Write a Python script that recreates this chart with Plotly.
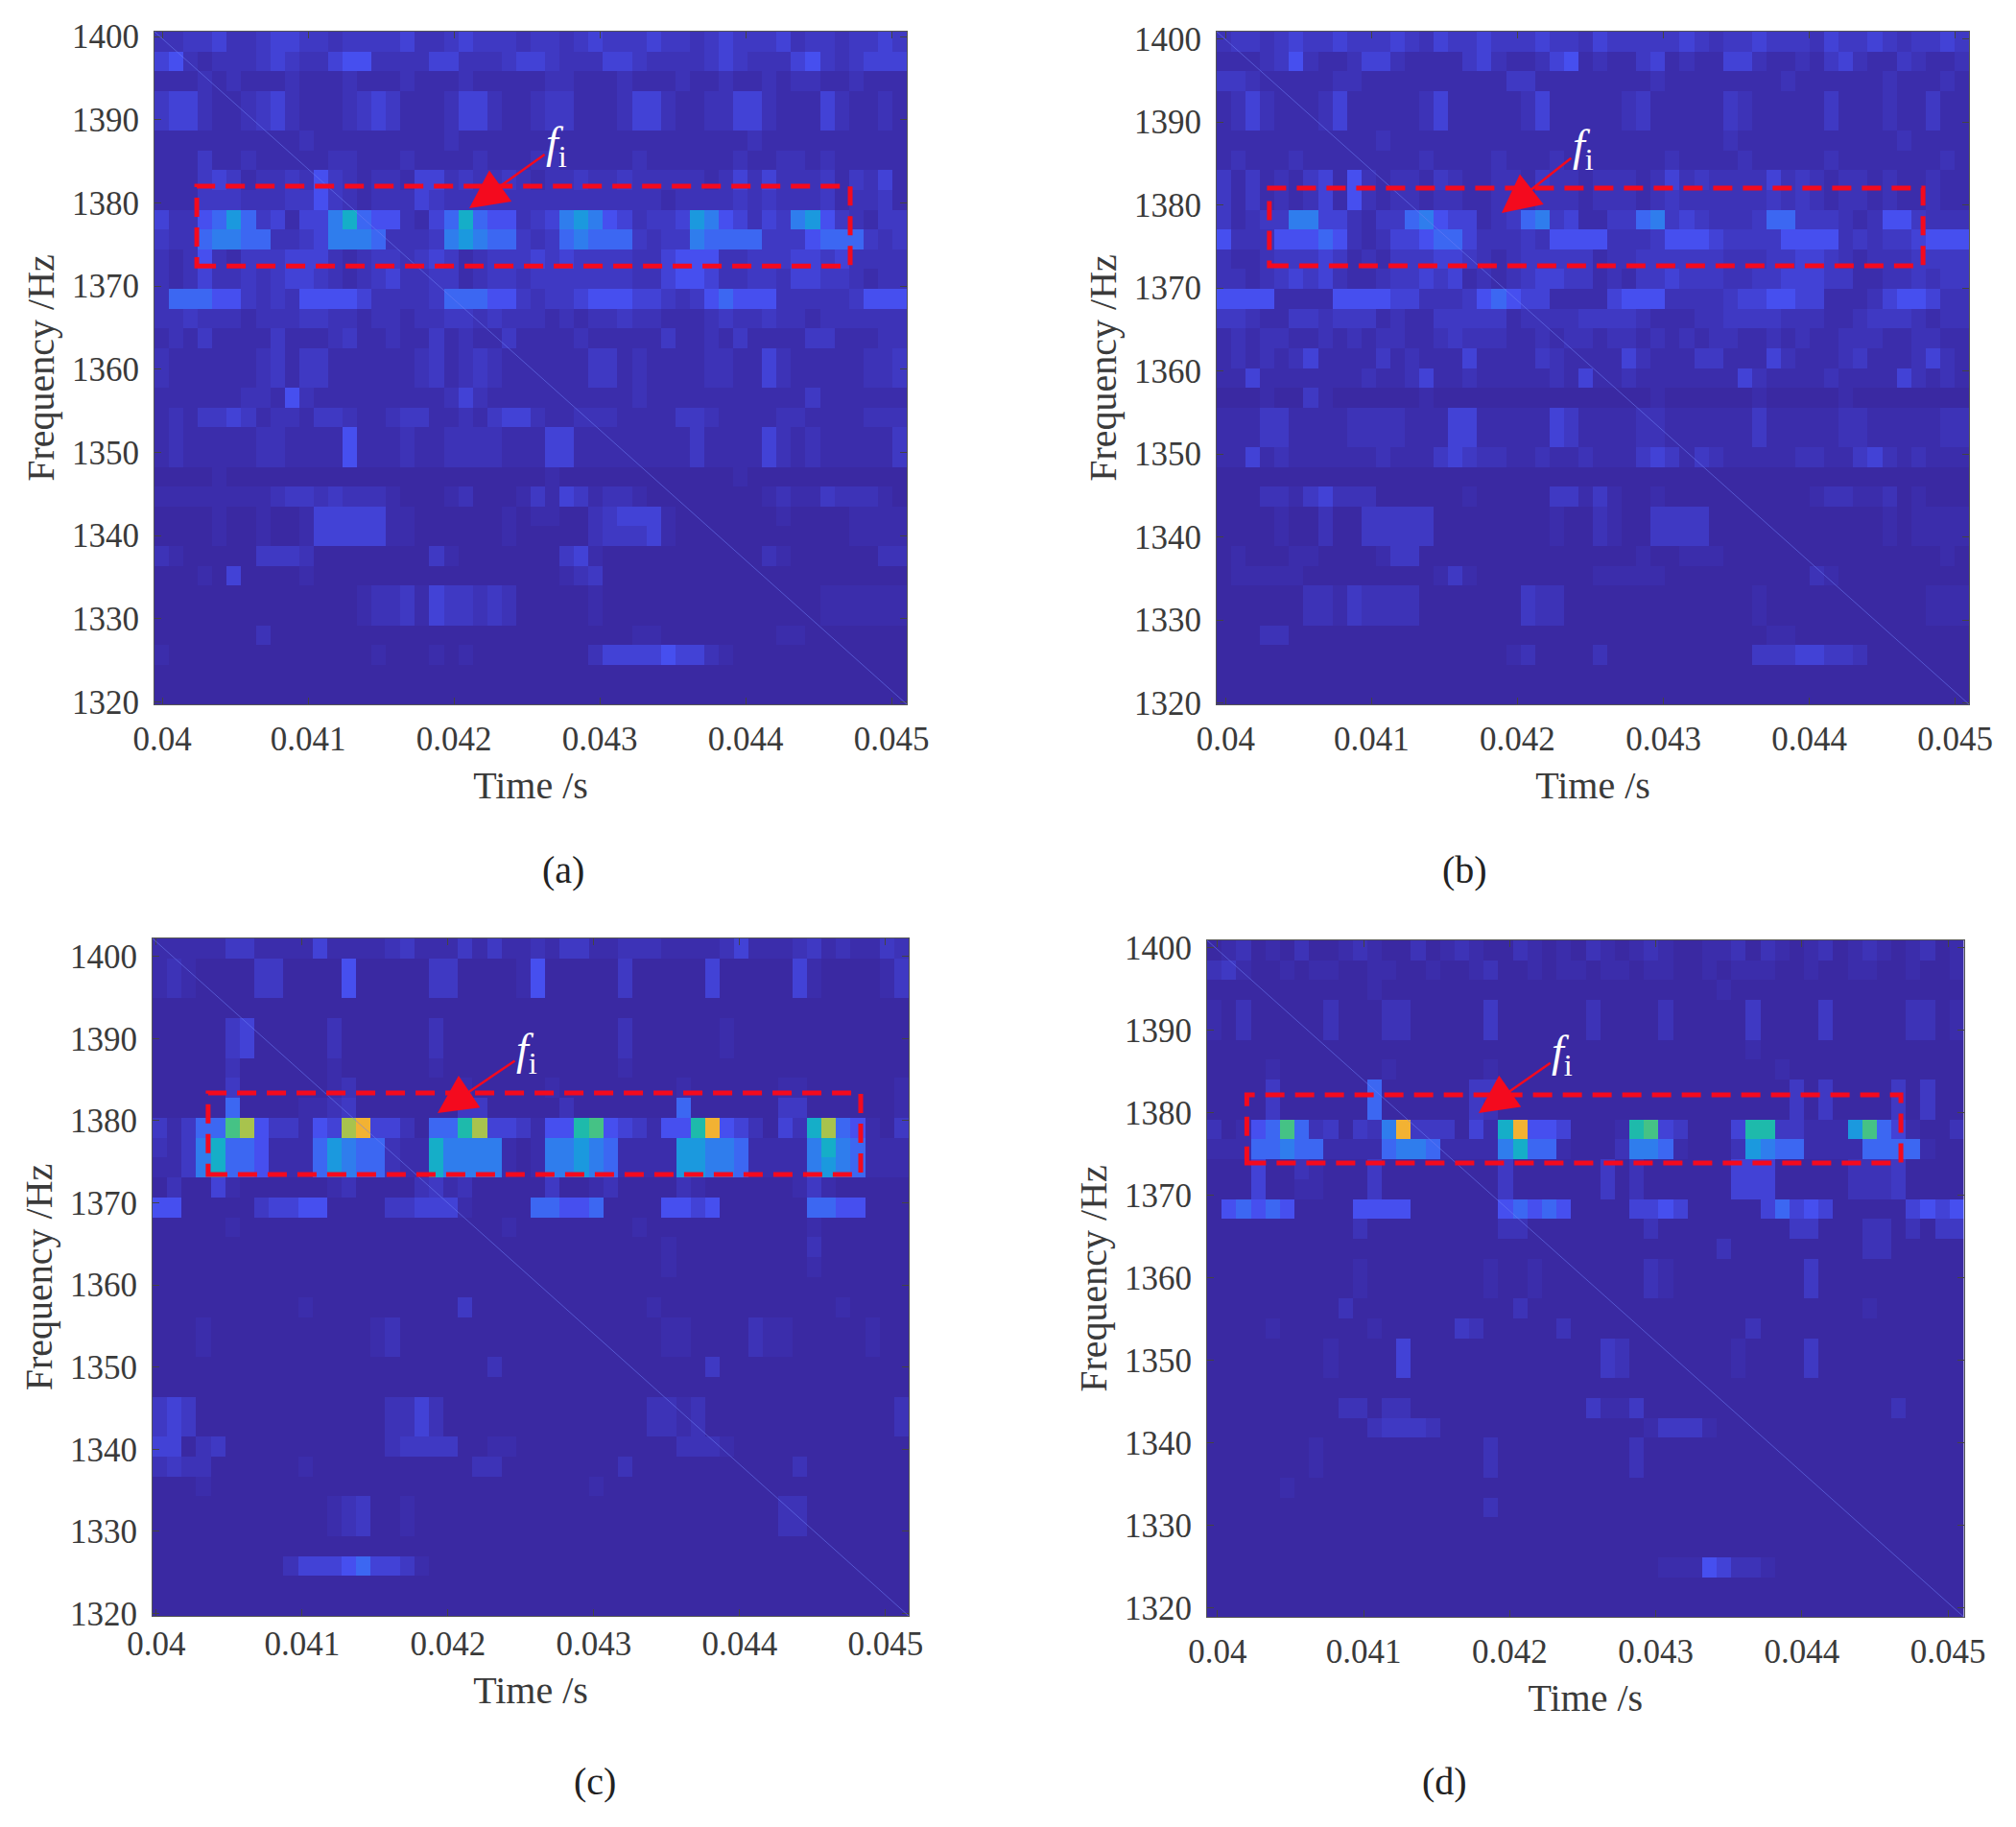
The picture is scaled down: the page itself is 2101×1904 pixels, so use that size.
"""
Four time-frequency maps (a)-(d), 1320-1400 Hz over 0.040-0.045 s.
Cell intensities are read off the figure by eye and kept as level codes.
"""

import numpy as np
import plotly.graph_objects as go

W, H = 2101, 1904
N_COLS = 52
N_ROWS = 34

# level code -> colour position, finer at the low end where most cells sit
LEVELS = {"0": 0.0, "1": 0.012, "2": 0.028, "3": 0.045, "4": 0.07, "5": 0.105, "6": 0.17,
          "7": 0.23, "8": 0.31, "9": 0.40, "a": 0.50, "b": 0.60, "c": 0.72, "d": 0.87}

PARULA = [[0.0, "#3A29A2"], [0.11, "#4751F3"], [0.2, "#3772F2"], [0.3, "#1C97E0"],
          [0.4, "#15AEC8"], [0.5, "#1EBAAB"], [0.6, "#45C285"], [0.72, "#A8C34D"],
          [0.87, "#F2B233"], [1.0, "#F9F915"]]

# rows run top to bottom, columns left to right; short rows are padded with 0
PANEL_A = [
    "2233422344 3323333422 3433323323 4333433234 3334233233 43",
    "4521222343 2245522224 4222344322 2443222234 3222453234 44",
    "1112121112 1112111211 1211111221 1121112112 1121221121 11",
    "3442112342 1112343111 2442112331 1124421122 4421114211 21",
    "3442112342 1112343111 2442112331 1124421122 4421114211 21",
    "1111111111 2111111111 2111111111 1111111111 1211111111 11",
    "1113112111 1122111211 1121112211 1112111111 2112212111 11",
    "1113431223 2532122144 2322321223 2232222212 4242223132 41",
    "1113332223 3532122243 2222222222 2222212222 3232223122 31",
    "4225686341 4479655214 6965523478 7542334875 4243785321 33",
    "3226776622 3477762223 7876632367 6663233766 6633356663 23",
    "2125213334 4421233234 3123334343 3332245552 2333443422 22",
    "2124223234 4321234223 3123323333 3332245542 2332443321 22",
    "2666553232 5555422223 6665532334 5554432356 5552222235 55",
    "2232221222 3322122122 3323222121 2232211123 2232212222 22",
    "1213111131 1123112113 1211311112 1111131121 3111133111 22",
    "2111111231 3311111123 1232111111 3312111122 1142111112 23",
    "2111111231 3311111123 1232111111 3312111122 1142111112 23",
    "1111112215 2111111111 2421111111 1112111111 1111131111 11",
    "1213343122 1332112331 1213442112 2211113321 1112211112 22",
    "1211111221 1115111211 2222111441 1111111311 1142121111 13",
    "1211111221 1115111211 2222111441 1111111311 1142121111 13",
    "0000100000 0000000000 0000000100 0000000000 1000000000 00",
    "1111111123 3232221000 1200013143 1221000000 0012113222 10",
    "0000100100 1444441100 0000101100 2344410000 0001000011 11",
    "0000100100 1444441100 0000100000 2333410000 0000000011 11",
    "2100000333 2000000003 1000000034 1000000000 0021000000 22",
    "0001040000 1000000000 0000000012 3000000000 0000000000 00",
    "0000000000 0000122314 3323200000 1000000000 0000001111 11",
    "0000000000 0000122314 3323200000 1000000000 0000001111 11",
    "0000000200 0000000000 0000000000 0001100000 0001100000 00",
    "1000000000 0000010001 0100000000 2444454421 0000000000 00",
    "",
    "",
]

PANEL_B = [
    "2332343343 3343243343 3343324333 3343233433 3243343233 43",
    "1112352112 4421111342 1124512113 4121144211 2134211321 12",
    "3321111122 1111111111 3311111111 2111111112 1111112111 21",
    "1242111241 1111241111 1241111123 1111132111 1131112113 11",
    "1242111241 1111241111 1241111123 1111132111 1131112113 11",
    "1111111111 1211111111 1111111111 1111121111 1111111211 11",
    "1211121111 1111211112 1112111111 1211112111 1121111111 21",
    "3131213415 2122132112 2132212221 2423222242 3212212112 11",
    "3131212415 2122122112 2122212221 2322222232 3212212112 11",
    "3123377442 1336754412 3673411336 7343222366 3332125532 22",
    "5222555652 1244566422 2325555222 3555433335 5552323345 55",
    "2112333431 2133344321 2333331223 3333322233 4432122233 33",
    "2212343421 1233434121 2344331213 3433322334 4433112232 33",
    "5555111155 5544222356 5441111455 5222234455 4411124554 22",
    "3321133233 3121133333 1222233332 1112233332 2211233321 22",
    "1212211212 1221123222 1121221221 2121221121 2112221122 11",
    "1212124111 1312111411 1132111142 1113311142 1112311124 21",
    "1141111111 2112411211 1112141121 1111114211 1121111421 21",
    "0001003100 0000100000 0000000000 1000000100 0001000000 00",
    "1113311112 2221114411 1114311112 2111111311 1112211111 22",
    "1113311112 2221114411 1114311112 2111111311 1112211111 22",
    "1141211111 1211134322 1121121113 4313211111 2211342121 11",
    "",
    "0002213422 2000000100 0003313100 1000000000 0122112010 00",
    "0000100200 3333300000 0001002100 3333000000 0000001011 11",
    "0000100200 3333300000 0001002100 3333000000 0000001011 11",
    "0100011000 0133000000 0000000001 0011100000 0000000000 10",
    "0111110000 0000013100 0000001111 1000000000 0210000000 00",
    "0000002213 2222000000 0322000000 0000000100 0000000001 11",
    "0000002213 2222000000 0322000000 0000000100 0000000001 11",
    "0002200000 0000000000 0000000000 0000000011 0000000000 00",
    "0000000000 0000000000 1200002000 0000000333 4433200000 00",
    "",
    "",
]

PANEL_C = [
    "1111133111 1411112311 1313112133 1122211112 4111231211 32",
    "1210000330 0005000003 3000015000 0030000040 0000410000 13",
    "1210000330 0005000003 3000015000 0030000040 0000410000 13",
    "",
    "0000034000 0020000002 0000000000 0020000001 0000000000 00",
    "0000034000 0020000002 0000000000 0020000001 0000000000 00",
    "0000020000 0010000001 0000000000 0010000000 0000000000 00",
    "0000030000 0012000000 0100000100 0000001000 0001100000 01",
    "0000060000 1123000000 0330000020 0000006000 0003300000 01",
    "31366bc533 154cd44206 6ac443155a b543155ad5 420429c651 03",
    "2137966511 1687662119 7777101778 7611118877 6111179761 11",
    "1137966511 1687662119 7777101778 7611118877 6111178761 11",
    "0200410000 0012000023 1200000300 1200002100 0000131000 00",
    "5500000344 5500003344 4100006655 6000055450 0000066550 00",
    "0000010000 0000000000 0000100000 0001000000 0000010000 00",
    "0000000000 0000000000 0000000000 0000010000 0000020000 00",
    "0000000000 0000000000 0000000000 0000010000 0000010000 00",
    "",
    "0000000000 1000000000 0300000000 0000100000 0000000100 00",
    "0001000000 0000012000 0000000000 0000011000 0211000001 00",
    "0001000000 0000012000 0000000000 0000011000 0211000001 00",
    "0000000000 0000000000 0002000000 0000000030 0000000000 00",
    "",
    "3430000000 0000002242 0000000000 0000221200 0000000000 02",
    "3430000000 0000002242 0000000000 0000221200 0000000000 02",
    "4402300000 0000002333 3001100000 0000002221 0000000000 00",
    "2322000000 1000000000 0022000000 0020000000 0000200000 00",
    "0001000000 0000000000 0000000000 1000000000 0000000000 00",
    "0000000000 0012300100 0000000000 0000000000 0002200000 00",
    "0000000000 0012300100 0000000000 0000000000 0002200000 00",
    "",
    "0000000002 4445644310",
    "",
    "",
]

PANEL_D = [
    "0120102001 2100201210 0210102101 2100112021 0120121012 01",
    "2310010110 0110010012 0010110110 1100101110 0100110010 01",
    "0000000000 0100000000 0000000000 0000010000 0000000000 00",
    "1020000020 0022000003 0000002000 0200000300 0030000022 01",
    "1020000020 0022000003 0000002000 0200000300 0030000022 01",
    "0000000000 0000000000 0000000000 0000000100 0000000000 00",
    "0000100000 0010000001 0000000000 0000000001 0000000000 00",
    "0000300000 0600000033 0000000000 0000000000 3030000303 00",
    "0000300000 0600000032 0000000000 0000000000 3030000303 00",
    "20156b6230 327d333041 9d5540001a b430004aa3 31118b6410 02",
    "1116676611 1167761111 7966100027 7610002876 6111166661 00",
    "0004002100 0300000000 3000000302 0000004440 0000222300 00",
    "0004001100 0300000000 3000000302 0000004440 0000222300 00",
    "0565650000 5555000000 5656500004 4540000046 4540000045 45",
    "0000000000 2000000000 2200000000 2000000000 3300022020 33",
    "0000000000 0000000000 0000000000 0000020000 0000022000 00",
    "0000000000 1000000001 0010000000 2100000000 0300000000 00",
    "0000000000 1000000001 0010000000 2100000000 0300000000 00",
    "0000000002 0000000000 0200000000 0000000000 0000010000 00",
    "0000100000 0100000320 0000200000 0000000200 0000000000 00",
    "0000000010 0004000000 0000000320 0000001000 0300000000 00",
    "0000000010 0004000000 0000000320 0000001000 0300000000 00",
    "",
    "0000000002 2022000000 0000003113 0000000000 0000000200 00",
    "0000000000 0233320000 0000000000 1333100000 0000000000 00",
    "0000000100 0000000002 0000000002 0000000000 0000000000 00",
    "0000000100 0000000002 0000000002 0000000000 0000000000 00",
    "0000010000",
    "0000000000 0000000002",
    "",
    "",
    "0000000000 0000000000 0000000000 0111542210 0000000000 00",
    "",
    "",
]

PANELS = [PANEL_A, PANEL_B, PANEL_C, PANEL_D]
CAPTIONS = ["(a)", "(b)", "(c)", "(d)"]

# data range shown by each image
X_RANGES = [[0.039947, 0.045105], [0.039938, 0.045095], [0.039974, 0.045158], [0.039928, 0.045108]]
Y_RANGES = [[1319.72, 1400.58], [1319.85, 1400.89], [1319.71, 1402.18], [1318.90, 1400.88]]

# red dashed box around the band: t0, t1, f0, f1
BOXES = [[0.040237, 0.044717, 1372.40, 1382.00],
         [0.040299, 0.044780, 1372.68, 1382.05],
         [0.040355, 0.044829, 1373.45, 1383.38],
         [0.040200, 0.044678, 1373.91, 1382.16]]
# arrow tip and f_i label position: t, f
ARROW_TIPS = [[0.042105, 1379.35], [0.041891, 1379.04], [0.041928, 1380.92], [0.041787, 1379.95]]
LABELS = [[0.042704, 1386.85], [0.042450, 1386.79], [0.042540, 1388.28], [0.042360, 1387.05]]

X_TICKS = [0.04, 0.041, 0.042, 0.043, 0.044, 0.045]
X_TICK_TEXT = ["0.04", "0.041", "0.042", "0.043", "0.044", "0.045"]
Y_TICKS = [1320, 1330, 1340, 1350, 1360, 1370, 1380, 1390, 1400]

# plot boxes on the page in pixels: left, right, top, bottom
BOX_PX = [[161, 945, 33, 734], [1268, 2052, 33, 734], [159, 947, 978, 1684], [1258, 2046.5, 980, 1685]]
CAPTION_PX = [[587, 906], [1526, 906], [620, 1856], [1505, 1856]]
# panel (c) has its time labels closer to the axis than the others
X_LABEL_STANDOFF = [5, 5, -2, 5]

SERIF = "Liberation Serif"
TEXT = "#3a3a3a"


def decode(rows):
    z = []
    for row in rows:
        codes = row.replace(" ", "").ljust(N_COLS, "0")[:N_COLS]
        z.append([LEVELS[c] for c in codes])
    return z


fig = go.Figure()

for i, rows in enumerate(PANELS):
    suffix = "" if i == 0 else str(i + 1)
    xl, xr = X_RANGES[i]
    yb, yt = Y_RANGES[i]
    dx = (xr - xl) / N_COLS
    dy = (yt - yb) / N_ROWS
    fig.add_trace(go.Heatmap(
        z=decode(rows),
        x0=xl + dx / 2, dx=dx,
        y0=yt - dy / 2, dy=-dy,
        colorscale=PARULA, zmin=0, zmax=1, showscale=False,
        xaxis="x" + suffix, yaxis="y" + suffix,
    ))

    left, right, top, bottom = BOX_PX[i]
    axis_style = dict(showgrid=False, zeroline=False, ticks="inside", ticklen=7, tickwidth=1,
                      tickcolor="#444444", showline=True, linecolor="#555555", linewidth=1,
                      mirror="ticks", automargin=False,
                      tickfont=dict(family=SERIF, size=35, color=TEXT))
    fig.update_layout({
        "xaxis" + suffix: dict(
            axis_style, domain=[left / W, right / W], range=[xl, xr], anchor="y" + suffix,
            tickmode="array", tickvals=X_TICKS, ticktext=X_TICK_TEXT,
            ticklabelstandoff=X_LABEL_STANDOFF[i],
            title=dict(text="Time /s", standoff=14, font=dict(family=SERIF, size=40, color=TEXT)),
        ),
        "yaxis" + suffix: dict(
            axis_style, domain=[1 - bottom / H, 1 - top / H], range=[yb, yt], anchor="x" + suffix,
            tickmode="array", tickvals=Y_TICKS, ticklabelstandoff=8,
            title=dict(text="Frequency /Hz", standoff=6, font=dict(family=SERIF, size=40, color=TEXT)),
        ),
    })

    # faint diagonal running corner to corner
    fig.add_shape(type="line", xref="x" + suffix + " domain", yref="y" + suffix + " domain",
                  x0=0, y0=1, x1=1, y1=0, line=dict(color="rgba(110,125,245,0.55)", width=1))

    t0, t1, f0, f1 = BOXES[i]
    fig.add_shape(type="rect", xref="x" + suffix, yref="y" + suffix, x0=t0, x1=t1, y0=f0, y1=f1,
                  line=dict(color="#F40A1E", width=5, dash="20px,11px"))

    # label sits on the arrow's tail, the arrow runs from it to the band
    fig.add_annotation(xref="x" + suffix, yref="y" + suffix, axref="x" + suffix, ayref="y" + suffix,
                       x=ARROW_TIPS[i][0], y=ARROW_TIPS[i][1], ax=LABELS[i][0], ay=LABELS[i][1],
                       text="<i>f</i><sub>i</sub>", showarrow=True, arrowhead=2, arrowsize=3.2,
                       arrowwidth=2.5, arrowcolor="#F40A1E",
                       font=dict(family=SERIF, size=46, color="white"))
    fig.add_annotation(xref="paper", yref="paper", x=CAPTION_PX[i][0] / W, y=1 - CAPTION_PX[i][1] / H,
                       xanchor="center", yanchor="middle",
                       text=CAPTIONS[i], showarrow=False,
                       font=dict(family=SERIF, size=40, color="#222222"))

fig.update_layout(width=W, height=H, margin=dict(l=0, r=0, t=0, b=0),
                  paper_bgcolor="white", plot_bgcolor="white", showlegend=False)

fig.write_html("out.html", config={"displayModeBar": False},
               post_script="document.body.style.margin='0';")
